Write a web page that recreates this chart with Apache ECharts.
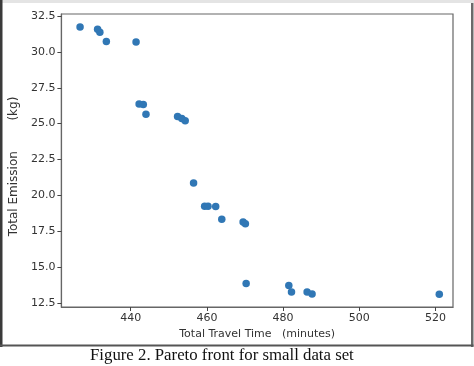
<!DOCTYPE html>
<html><head><meta charset="utf-8">
<script src="https://cdn.jsdelivr.net/npm/echarts@6/dist/echarts.min.js"></script>
<style>html,body{margin:0;padding:0;background:#fff;}#c{width:474px;height:366px;}</style>
</head><body><div id="c"></div>
<script>
const travelTime = [426.7, 431.3, 431.9, 433.6, 441.4, 442.2, 443.3, 444.0, 452.3, 453.4, 454.3,
  456.5, 459.4, 460.3, 462.3, 463.9, 469.5, 470.1, 470.3, 481.5, 482.2, 486.3, 487.6, 521.0];
const emission = [31.73, 31.57, 31.36, 30.73, 30.69, 26.36, 26.34, 25.66, 25.50, 25.36, 25.20,
  20.87, 19.24, 19.24, 19.22, 18.33, 18.15, 18.03, 13.85, 13.71, 13.26, 13.26, 13.12, 13.10];
const xTicks = [440, 460, 480, 500, 520];
const yTicks = [12.5, 15.0, 17.5, 20.0, 22.5, 25.0, 27.5, 30.0, 32.5];
const xLabel = 'Total Travel Time   (minutes)';
const yLabel = 'Total Emission        (kg)';
const caption = 'Figure 2. Pareto front for small data set';

const chart = echarts.init(document.getElementById('c'), null, {renderer: 'canvas'});
const font = 'DejaVu Sans';
chart.setOption({
  animation: false,
  backgroundColor: '#fff',
  title: {
    text: caption, left: 85, top: 342,
    textStyle: {fontFamily: 'Liberation Serif', fontSize: 16.8, fontWeight: 'normal', color: '#111'}
  },
  grid: {left: 59, top: 14, right: 21, bottom: 59, show: true, borderColor: '#666', borderWidth: 1.2, backgroundColor: '#fff'},
  xAxis: {
    type: 'value', min: 421.8, max: 524.6,
    name: xLabel, nameLocation: 'middle', nameGap: 22,
    nameTextStyle: {fontFamily: font, fontSize: 11, color: '#333'},
    axisLine: {show: true, onZero: false, lineStyle: {color: '#666', width: 1.2}},
    axisTick: {show: true, length: 4, customValues: xTicks, lineStyle: {color: '#444'}},
    axisLabel: {customValues: xTicks, fontFamily: font, fontSize: 11, color: '#333', margin: 6},
    splitLine: {show: false}
  },
  yAxis: {
    type: 'value', min: 12.22, max: 32.64,
    name: yLabel, nameLocation: 'middle', nameGap: 33,
    nameTextStyle: {fontFamily: font, fontSize: 12, color: '#333', padding: [0, 12, 0, 0]},
    axisLine: {show: true, onZero: false, lineStyle: {color: '#666', width: 1.2}},
    axisTick: {show: true, length: 4, customValues: yTicks, lineStyle: {color: '#444'}},
    axisLabel: {customValues: yTicks, fontFamily: font, fontSize: 11, color: '#333', margin: 6,
      formatter: v => v.toFixed(1)},
    splitLine: {show: false}
  },
  graphic: [
    {type: 'rect', shape: {x: 0, y: 0, width: 474, height: 3}, style: {fill: '#e4e4e4'}, silent: true},
    {type: 'rect', shape: {x: 0, y: 0, width: 2.5, height: 347}, style: {fill: '#3a3a3a'}, silent: true},
    {type: 'rect', shape: {x: 471, y: 3, width: 2.5, height: 344}, style: {fill: '#6a6a6a'}, silent: true},
    {type: 'rect', shape: {x: 0, y: 344.5, width: 473.5, height: 2}, style: {fill: '#555'}, silent: true}
  ],
  series: [{
    type: 'scatter',
    symbolSize: 7.5,
    itemStyle: {color: '#3077b5', opacity: 1},
    data: travelTime.map((t, i) => [t, emission[i]])
  }]
});
</script></body></html>
